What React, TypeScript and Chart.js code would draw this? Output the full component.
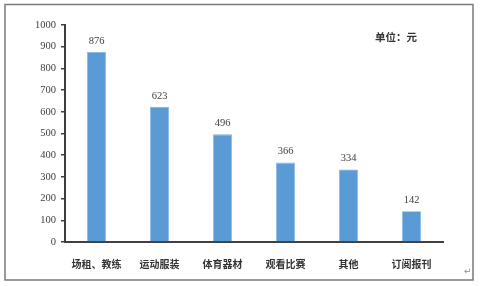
import React, { useEffect, useRef } from "react";
import { Chart, registerables } from "chart.js";

Chart.register(...registerables);

const categories = ["场租、教练", "运动服装", "体育器材", "观看比赛", "其他", "订阅报刊"];
const values = [876, 623, 496, 366, 334, 142];
const unitLabel = "单位：元";
const yMin = 0;
const yMax = 1000;
const yStep = 100;

const decorPlugin = {
  id: "decor",
  beforeDraw(chart: any) {
    const ctx = chart.ctx;
    ctx.save();
    ctx.fillStyle = "#ffffff";
    ctx.fillRect(0, 0, chart.width, chart.height);
    ctx.strokeStyle = "#7a7a7a";
    ctx.lineWidth = 1.5;
    ctx.strokeRect(5, 4.5, 468, 275.5);
    ctx.restore();
  },
  afterDatasetsDraw(chart: any) {
    const ctx = chart.ctx;
    const meta = chart.getDatasetMeta(0);
    ctx.save();
    ctx.font = "10.5px 'Liberation Serif', serif";
    ctx.fillStyle = "#404040";
    ctx.textAlign = "center";
    ctx.textBaseline = "middle";
    meta.data.forEach((bar: any, i: number) => {
      ctx.fillText(String(values[i]), bar.x, bar.y - 11);
    });
    ctx.font = "bold 10.5px 'Noto Sans CJK SC', sans-serif";
    ctx.fillStyle = "#333333";
    ctx.textAlign = "left";
    ctx.fillText(unitLabel, 375, 37);
    ctx.font = "9px 'DejaVu Sans', sans-serif";
    ctx.fillStyle = "#888888";
    ctx.fillText("↵", 464, 272);
    ctx.restore();
  },
};

export default function App() {
  const ref = useRef<HTMLCanvasElement>(null);
  useEffect(() => {
    if (!ref.current) return;
    const chart = new Chart(ref.current, {
      type: "bar",
      data: {
        labels: categories,
        datasets: [
          {
            data: values,
            backgroundColor: "#5b9bd5",
            borderColor: "#7fb3e3",
            borderWidth: 0.8,
            categoryPercentage: 1,
            barPercentage: 0.3,
          },
        ],
      },
      options: {
        responsive: false,
        animation: false,
        layout: { padding: { left: 0, right: 40, top: 25, bottom: 0 } },
        plugins: { legend: { display: false }, tooltip: { enabled: false } },
        scales: {
          x: {
            grid: { display: false },
            border: { color: "#404040", width: 2 },
            ticks: {
              padding: 8,
              color: "#333333",
              font: { family: "'Noto Sans CJK SC', sans-serif", size: 10, weight: "bold" },
              maxRotation: 0,
              autoSkip: false,
            },
            afterFit(scale: any) {
              scale.height = 44;
            },
          },
          y: {
            min: yMin,
            max: yMax,
            grid: {
              drawOnChartArea: false,
              drawTicks: true,
              tickLength: 4,
              color: "#404040",
              lineWidth: 1.5,
            },
            border: { color: "#404040", width: 2 },
            ticks: {
              stepSize: yStep,
              padding: 5,
              color: "#404040",
              font: { family: "'Liberation Serif', serif", size: 10.5 },
              callback: (v: any) => String(v),
            },
            afterFit(scale: any) {
              scale.width = 65;
            },
          },
        },
      },
      plugins: [decorPlugin],
    });
    return () => chart.destroy();
  }, []);
  return (
    <div style={{ position: "fixed", left: 0, top: 0, width: 483, height: 286, background: "#fff" }}>
      <canvas ref={ref} width={483} height={286} style={{ display: "block" }} />
    </div>
  );
}
